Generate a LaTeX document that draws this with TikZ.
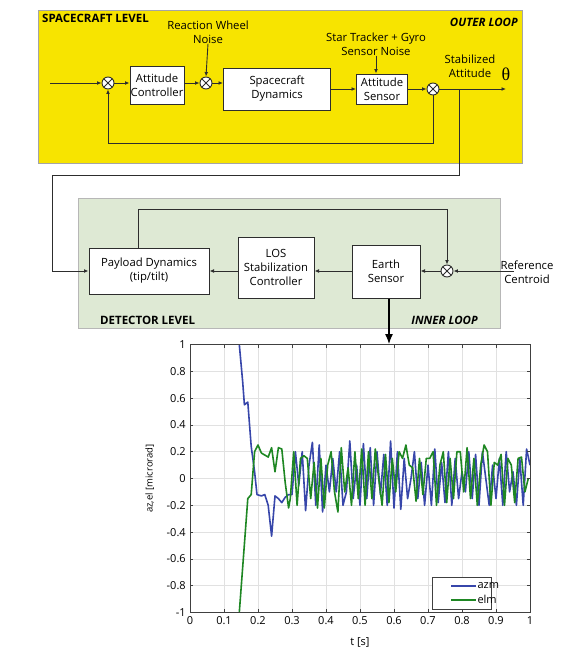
\documentclass[tikz,border=0pt]{standalone}
\usepackage{fontspec}
\setmainfont{Open Sans}
\newfontfamily\thetafont{Liberation Serif}
\usetikzlibrary{arrows.meta}
\definecolor{ylw}{RGB}{247,228,0}
\definecolor{grn}{RGB}{222,233,212}
\definecolor{frame}{RGB}{165,165,165}
\definecolor{ln}{RGB}{45,45,45}
\definecolor{azc}{RGB}{55,70,170}
\definecolor{elc}{RGB}{30,135,35}
\definecolor{gridc}{RGB}{225,225,225}
\begin{document}
\begin{tikzpicture}[x=1pt,y=-1pt,
  font=\fontsize{11.3}{14}\selectfont,
  blk/.style={draw=ln,fill=white,line width=1pt,align=center,inner sep=0pt},
  sumj/.style={circle,draw=ln,fill=white,line width=0.9pt,minimum size=12pt,inner sep=0pt,
    path picture={\draw[ln,line width=0.8pt] (path picture bounding box.south east)--(path picture bounding box.north west)
      (path picture bounding box.south west)--(path picture bounding box.north east);}},
  wire/.style={draw=ln,line width=0.9pt},
  arr/.style={wire,-{Latex[length=4.5pt,width=3.8pt]}},
  lbl/.style={align=center,inner sep=0pt},
  hdr/.style={font=\fontsize{11.5}{13}\selectfont\bfseries,inner sep=0pt},
  tlab/.style={font=\fontsize{11}{12}\selectfont,inner sep=0pt},
  curve/.style={line width=1.6pt,line join=round}]
\useasboundingbox[fill=white] (0,0) rectangle (587,651);

% ---------- outer loop ----------
\node[draw=frame,fill=ylw,line width=1pt,minimum width=484pt,minimum height=153pt,inner sep=0pt] (outer) at (280,87) {};
\node[hdr,anchor=west] (sclev) at (42,18) {SPACECRAFT LEVEL};
\node[hdr,anchor=east] (outl) at (518,22) {\itshape OUTER LOOP};

\coordinate (in) at (50,83);
\node[sumj] (s1) at (108,83) {};
\node[blk,minimum width=54pt,minimum height=38pt] (ac) at (157,85) {Attitude\\Controller};
\node[sumj] (s2) at (206,83) {};
\node[lbl] (rwn) at (208,32) {Reaction Wheel\\Noise};
\node[blk,minimum width=107pt,minimum height=42pt] (sd) at (277,89) {Spacecraft\\Dynamics};
\node[blk,minimum width=51pt,minimum height=30pt] (as) at (382,89) {Attitude\\Sensor};
\node[lbl] (stn) at (376,44) {Star Tracker + Gyro\\Sensor Noise};
\node[sumj] (s3) at (433,89) {};
\coordinate (out) at (506,89);
\node[lbl] (sa) at (470,66) {Stabilized\\Attitude};
\node[inner sep=0pt] (th) at (506,74) {\thetafont\fontsize{18}{18}\selectfont θ};
\coordinate (br) at (459,89);

\draw[arr] (in) -- (s1);
\draw[arr] (s1) -- (s1 -| ac.west);
\draw[arr] (s2 -| ac.east) -- (s2);
\draw[arr] (s2) -- (s2 -| sd.west);
\draw[arr] (rwn.south) -- (s2.north);
\draw[arr] (sd.east) -- (as.west);
\draw[arr] (stn.south) -- (stn.south |- as.north);
\draw[arr] (as.east) -- (s3);
\draw[arr] (s3) -- (out);
\draw[arr] (s3.south) -- (433,143) -| (s1.south);

% ---------- inner loop ----------
\node[draw=frame!80,fill=grn,line width=0.8pt,minimum width=422pt,minimum height=130pt,inner sep=0pt] (inner) at (289,263) {};
\node[hdr,anchor=west] (dlev) at (100,320) {DETECTOR LEVEL};
\node[hdr,anchor=east] (inl) at (478,320) {\itshape INNER LOOP};

\node[blk,minimum width=120pt,minimum height=46pt] (pd) at (149,271) {Payload Dynamics\\(tip/tilt)};
\node[blk,minimum width=76pt,minimum height=61pt] (los) at (276,267.5) {LOS\\Stabilization\\Controller};
\node[blk,minimum width=68pt,minimum height=53pt] (es) at (386,271.5) {Earth\\Sensor};
\node[sumj] (s4) at (447,271) {};
\coordinate (rc) at (514,271);
\node[lbl] (rct) at (527,272) {Reference\\Centroid};

\draw[arr] (br) -- (459,175) -- (52,175) |- (pd.west);
\draw[arr] (rc) -- (s4);
\draw[arr] (s4) -- (s4 -| es.east);
\draw[arr] (s4 -| es.west) -- (s4 -| los.east);
\draw[arr] (s4 -| los.west) -- (s4 -| pd.east);
\draw[arr] ([xshift=-11pt]pd.north) |- (447,209) -- (s4.north);
\draw[draw=black,line width=1.2pt,-{Latex[length=10pt,width=8pt]}] ([xshift=3pt]es.south) -- (389,344);

% ---------- plot ----------
\begin{scope}[shift={(190,478.5)},x=340pt,y=134pt]
  \foreach \t in {0.1,0.2,...,0.95} \draw[gridc,line width=0.5pt] (\t,-1) -- (\t,1);
  \foreach \v in {-0.8,-0.6,...,0.85} \draw[gridc,line width=0.5pt] (0,\v) -- (1,\v);
  \begin{scope}
    \clip (0,-1) rectangle (1,1);
    \draw[azc,curve] (0.145,1) -- (0.155,0.72) -- (0.16,0.55) -- (0.17,0.57) -- (0.18,0.24) -- (0.19,0.05) -- (0.197,-0.12) -- (0.21,-0.13) -- (0.22,-0.12) -- (0.23,-0.2) -- (0.24,-0.43) -- (0.25,-0.13) -- (0.26,-0.15) -- (0.27,-0.18) -- (0.28,-0.14) -- (0.29,-0.12)
      \foreach \a/\b in {0.30/-0.12,0.31/0.2,0.32/-0.05,0.33/0.2,0.34/-0.24,0.35/0.1,0.36/0.27,0.37/-0.2,0.38/0.25,0.39/-0.25,0.40/0.1,0.41/-0.1,0.42/0.15,0.43/-0.1,0.44/0.2,0.45/-0.2,0.46/-0.1,0.47/0.28,0.48/-0.15,0.49/0.1,0.50/-0.2,0.51/0.26,0.52/-0.15,0.53/0.23,0.54/-0.2,0.55/0.2,0.56/-0.12,0.57/0.18,0.58/-0.2,0.59/0.28,0.60/-0.22,0.61/0.2,0.62/-0.23,0.63/0.15,0.64/-0.15,0.65/0.0,0.66/0.2,0.67/-0.15,0.68/0.12,0.69/-0.2,0.70/0.1,0.71/-0.2,0.72/0.22,0.73/-0.18,0.74/0.12,0.75/-0.18,0.76/0.2,0.77/-0.2,0.78/0.15,0.79/-0.15,0.80/0.05,0.81/-0.1,0.82/0.2,0.83/-0.15,0.84/0.18,0.85/-0.2,0.86/0.2,0.87/0.0,0.88/-0.2,0.89/0.1,0.90/-0.15,0.91/0.15,0.92/-0.2,0.93/0.2,0.94/-0.1,0.95/0.05,0.96/-0.2,0.97/0.15,0.98/-0.2,0.99/0.22,1.00/0.1}{ -- (\a,\b) };
    \draw[elc,curve] (0.145,-1) -- (0.17,-0.15) -- (0.18,-0.12) -- (0.19,0.2) -- (0.2,0.25) -- (0.21,0.19) -- (0.23,0.16) -- (0.24,0.23) -- (0.25,0.05) -- (0.26,0.23) -- (0.27,0.22) -- (0.28,-0.03) -- (0.29,-0.22)
      \foreach \a/\b in {0.295/-0.15,0.305/0.2,0.315/-0.2,0.325/0.15,0.335/0.17,0.345/0.15,0.355/-0.15,0.365/0.12,0.375/-0.22,0.385/0.15,0.395/-0.22,0.405/0.1,0.415/0.2,0.425/-0.1,0.435/-0.25,0.445/0.23,0.455/-0.1,0.465/0.08,0.475/-0.2,0.485/0.2,0.495/-0.15,0.505/0.22,0.515/-0.2,0.525/0.2,0.535/-0.15,0.545/0.22,0.555/0.0,0.565/-0.2,0.575/0.18,0.585/-0.18,0.595/0.15,0.605/-0.1,0.615/0.2,0.625/0.15,0.635/0.25,0.645/0.1,0.655/0.08,0.665/-0.17,0.675/0.15,0.685/-0.12,0.695/0.15,0.705/0.15,0.715/0.2,0.725/-0.2,0.735/0.1,0.745/0.2,0.755/-0.18,0.765/0.15,0.775/-0.15,0.785/0.2,0.795/0.2,0.805/-0.1,0.815/0.23,0.825/-0.15,0.835/0.15,0.845/-0.2,0.855/0.1,0.865/0.25,0.875/0.2,0.885/-0.2,0.895/0.12,0.905/0.1,0.915/0.18,0.925/-0.2,0.935/0.15,0.945/0.1,0.955/-0.18,0.965/0.15,0.975/0.16,0.985/-0.1,0.995/0.0}{ -- (\a,\b) };
  \end{scope}
  \draw[black!75,line width=0.7pt] (0,-1) rectangle (1,1);
  \foreach \t/\l in {0/0,0.1/0.1,0.2/0.2,0.3/0.3,0.4/0.4,0.5/0.5,0.6/0.6,0.7/0.7,0.8/0.8,0.9/0.9,1/1}{
    \draw[black!75,line width=0.6pt] (\t,-1) -- ++(0,0.025) (\t,1) -- ++(0,-0.025);
    \node[tlab,anchor=north] at (\t,-1.03) {\l};}
  \foreach \v/\l in {-1/-1,-0.8/-0.8,-0.6/-0.6,-0.4/-0.4,-0.2/-0.2,0/0,0.2/0.2,0.4/0.4,0.6/0.6,0.8/0.8,1/1}{
    \draw[black!75,line width=0.6pt] (0,\v) -- ++(0.01,0) (1,\v) -- ++(-0.01,0);
    \node[tlab,anchor=east] at (-0.012,\v) {\l};}
  \node[tlab,font=\fontsize{9.5}{11}\selectfont,rotate=90] (ylab) at (-0.118,0) {az,el [microrad]};
  \node[tlab] (xlab) at (0.5,-1.22) {t [s]};
  % legend
  \node[draw=black!75,fill=white,line width=0.6pt,minimum width=59pt,minimum height=32pt,inner sep=0pt] (leg) at (0.8,-0.86) {};
  \draw[azc,line width=1.6pt] (0.768,-0.8) -- (0.84,-0.8);
  \draw[elc,line width=1.6pt] (0.768,-0.905) -- (0.84,-0.905);
  \node[tlab,anchor=west] (azm) at (0.845,-0.8) {azm};
  \node[tlab,anchor=west] (elm) at (0.845,-0.905) {elm};
\end{scope}
\end{tikzpicture}
\end{document}
